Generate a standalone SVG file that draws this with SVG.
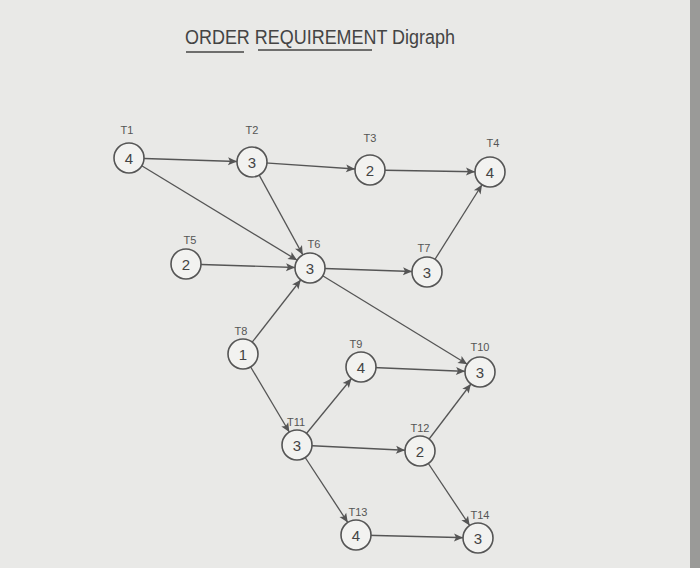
<svg xmlns="http://www.w3.org/2000/svg" width="700" height="568" viewBox="0 0 700 568">
<style>
.n circle{fill:#f2f2f0;stroke:#555;stroke-width:1.6}
.n text.v{font-family:"Liberation Sans",sans-serif;font-size:15px;fill:#444;text-anchor:middle;dominant-baseline:central}
.n text.l{font-family:"Liberation Sans",sans-serif;font-size:11px;fill:#555;text-anchor:middle}
#edges line{stroke:#555;stroke-width:1.3;marker-end:url(#a)}
</style>
<defs>
<marker id="a" markerUnits="userSpaceOnUse" markerWidth="30" markerHeight="20" refX="15" refY="0" orient="auto" overflow="visible">
<path d="M0,0 L-9,-4 L-7,0 L-9,4 Z" fill="#555"/>
</marker>
</defs>
<rect width="700" height="568" fill="#e9e9e7"/>
<rect x="690" width="10" height="568" fill="#9a9a98"/>
<text x="185" y="44" font-family="Liberation Sans,sans-serif" font-size="20" fill="#444" textLength="270" lengthAdjust="spacingAndGlyphs">ORDER REQUIREMENT Digraph</text>
<line x1="186" y1="52" x2="244" y2="52" stroke="#444" stroke-width="1.3"/>
<line x1="258" y1="50" x2="372" y2="50" stroke="#444" stroke-width="1.3"/>
<g id="edges">
<line x1="129" y1="158" x2="252" y2="162"/>
<line x1="129" y1="158" x2="310" y2="268"/>
<line x1="252" y1="162" x2="370" y2="170"/>
<line x1="252" y1="162" x2="310" y2="268"/>
<line x1="370" y1="170" x2="490" y2="172"/>
<line x1="186" y1="264" x2="310" y2="268"/>
<line x1="310" y1="268" x2="427" y2="272"/>
<line x1="427" y1="272" x2="490" y2="172"/>
<line x1="310" y1="268" x2="480" y2="372"/>
<line x1="243" y1="354" x2="310" y2="268"/>
<line x1="243" y1="354" x2="297" y2="445"/>
<line x1="297" y1="445" x2="361" y2="367"/>
<line x1="297" y1="445" x2="420" y2="451"/>
<line x1="297" y1="445" x2="356" y2="535"/>
<line x1="361" y1="367" x2="480" y2="372"/>
<line x1="420" y1="451" x2="480" y2="372"/>
<line x1="420" y1="451" x2="478" y2="538"/>
<line x1="356" y1="535" x2="478" y2="538"/>
</g>
<g id="T1" class="n"><text class="l" x="127" y="134">T1</text><circle cx="129" cy="158" r="15"/><text class="v" x="129" y="158">4</text></g>
<g id="T2" class="n"><text class="l" x="252" y="134">T2</text><circle cx="252" cy="162" r="15"/><text class="v" x="252" y="162">3</text></g>
<g id="T3" class="n"><text class="l" x="370" y="142">T3</text><circle cx="370" cy="170" r="15"/><text class="v" x="370" y="170">2</text></g>
<g id="T4" class="n"><text class="l" x="493" y="147">T4</text><circle cx="490" cy="172" r="15"/><text class="v" x="490" y="172">4</text></g>
<g id="T5" class="n"><text class="l" x="190" y="244">T5</text><circle cx="186" cy="264" r="15"/><text class="v" x="186" y="264">2</text></g>
<g id="T6" class="n"><text class="l" x="314" y="248">T6</text><circle cx="310" cy="268" r="15"/><text class="v" x="310" y="268">3</text></g>
<g id="T7" class="n"><text class="l" x="424" y="252">T7</text><circle cx="427" cy="272" r="15"/><text class="v" x="427" y="272">3</text></g>
<g id="T8" class="n"><text class="l" x="241" y="335">T8</text><circle cx="243" cy="354" r="15"/><text class="v" x="243" y="354">1</text></g>
<g id="T9" class="n"><text class="l" x="356" y="348">T9</text><circle cx="361" cy="367" r="15"/><text class="v" x="361" y="367">4</text></g>
<g id="T10" class="n"><text class="l" x="480" y="351">T10</text><circle cx="480" cy="372" r="15"/><text class="v" x="480" y="372">3</text></g>
<g id="T11" class="n"><text class="l" x="296" y="426">T11</text><circle cx="297" cy="445" r="15"/><text class="v" x="297" y="445">3</text></g>
<g id="T12" class="n"><text class="l" x="420" y="432">T12</text><circle cx="420" cy="451" r="15"/><text class="v" x="420" y="451">2</text></g>
<g id="T13" class="n"><text class="l" x="358" y="516">T13</text><circle cx="356" cy="535" r="15"/><text class="v" x="356" y="535">4</text></g>
<g id="T14" class="n"><text class="l" x="480" y="519">T14</text><circle cx="478" cy="538" r="15"/><text class="v" x="478" y="538">3</text></g>
</svg>
